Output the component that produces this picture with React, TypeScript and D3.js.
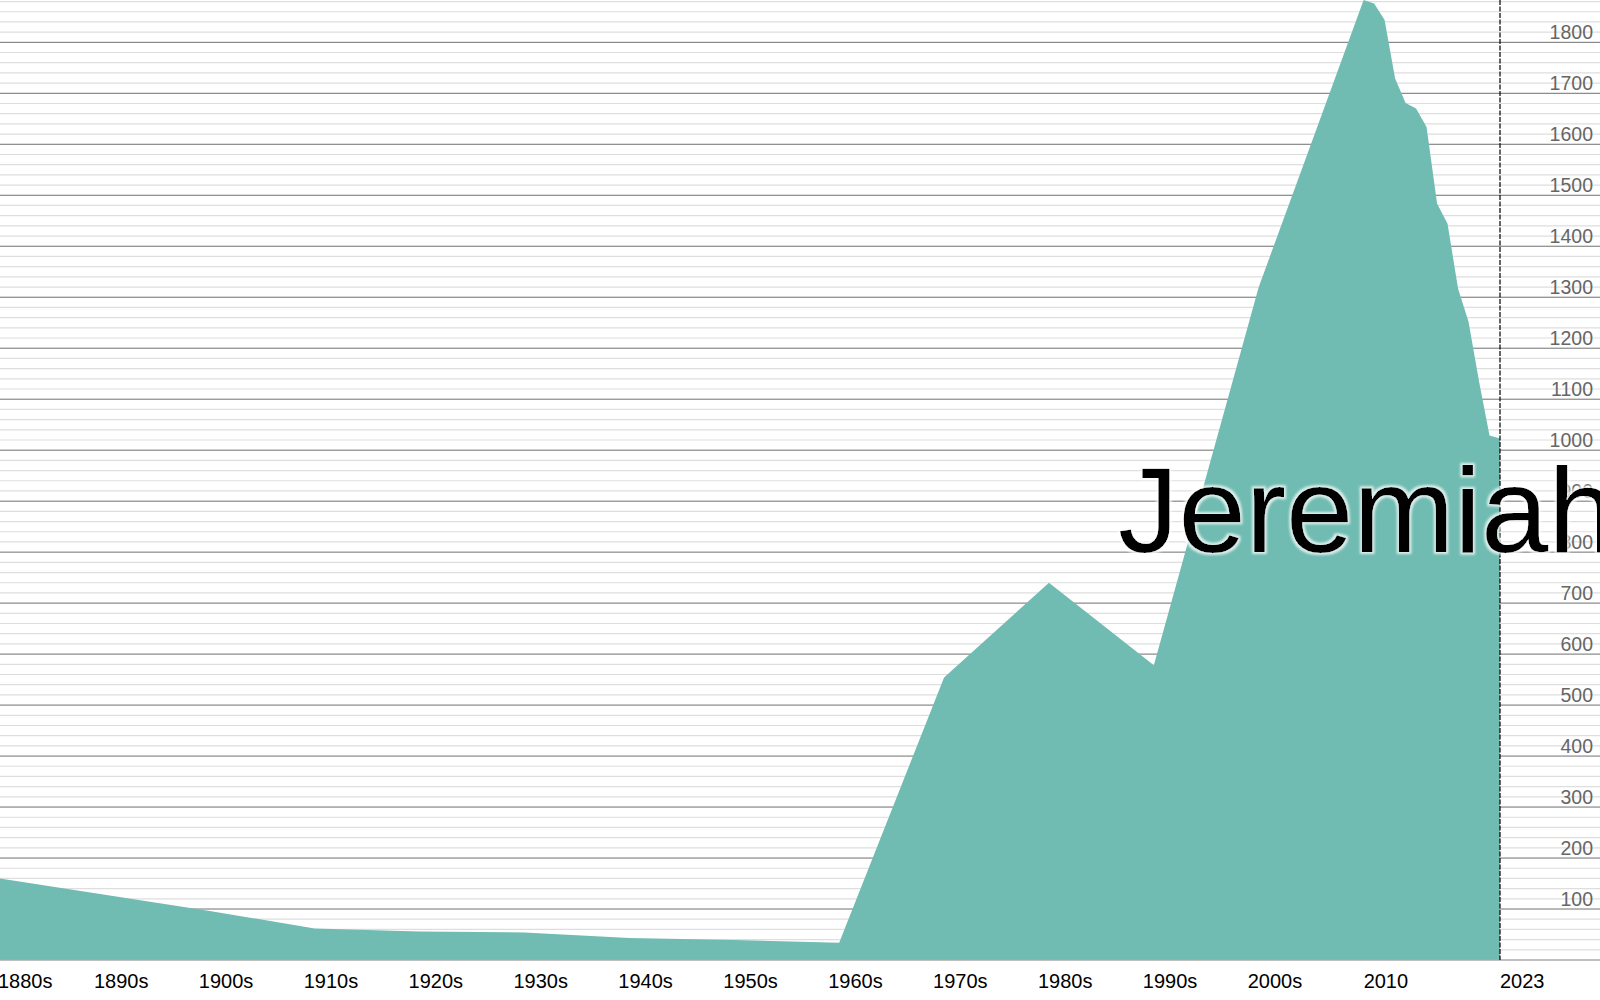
import React from "react";
import * as d3 from "d3";

const years = [1880, 1890, 1900, 1910, 1920, 1930, 1940, 1950, 1960, 1970, 1980, 1990, 2000,
  2010, 2011, 2012, 2013, 2014, 2015, 2016, 2017, 2018, 2019, 2020, 2021, 2022, 2023];
const counts = [160, 128, 96, 62, 56, 54, 43, 39, 34, 554, 740, 578, 1320,
  1883, 1876, 1844, 1729, 1681, 1670, 1634, 1484, 1444, 1317, 1252, 1135, 1029, 1023];

const decadeTicks = [1880, 1890, 1900, 1910, 1920, 1930, 1940, 1950, 1960, 1970, 1980, 1990, 2000];
const decadeLabels = ["1880s", "1890s", "1900s", "1910s", "1920s", "1930s", "1940s", "1950s", "1960s", "1970s", "1980s", "1990s", "2000s"];
const yearTicks = [2010, 2023];
const yearLabels = ["2010", "2023"];
const majorTicks = [100, 200, 300, 400, 500, 600, 700, 800, 900, 1000, 1100, 1200, 1300, 1400, 1500, 1600, 1700, 1800];
const nameLabel = "Jeremiah";

const W = 1600;
const H = 1000;
const plotW = 1500;
const plotH = 960;
const FONT = "'Liberation Sans', Arial, Helvetica, sans-serif";

export default function App() {
  const data = years.map((y, i) => ({ year: y, value: counts[i] }));
  const x = d3.scaleLinear().domain([1880, 2023]).range([0, plotW]);
  const yMax = d3.max(counts) as number;
  const y = d3.scaleLinear().domain([0, yMax]).range([plotH, 0]);

  const area = d3
    .area<{ year: number; value: number }>()
    .x((d) => x(d.year))
    .y0(y(0))
    .y1((d) => y(d.value))
    .curve(d3.curveLinear);

  const minorTicks = d3.range(20, yMax, 20).filter((v) => v % 100 !== 0);

  return (
    <div style={{ position: "absolute", left: 0, top: 0, width: W, height: H, background: "#fff" }}>
      <svg width={W} height={H} style={{ display: "block", fontFamily: FONT }}>
        <defs>
          <filter id="halo" x="-10%" y="-20%" width="120%" height="140%">
            <feMorphology in="SourceAlpha" operator="dilate" radius="1.5" result="d" />
            <feGaussianBlur in="d" stdDeviation="1.2" result="b" />
            <feFlood floodColor="#ffffff" floodOpacity="0.75" />
            <feComposite in2="b" operator="in" result="glow" />
            <feMerge>
              <feMergeNode in="glow" />
              <feMergeNode in="SourceGraphic" />
            </feMerge>
          </filter>
        </defs>
        <rect x={0} y={0} width={W} height={H} fill="#fff" />
        {minorTicks.map((v) => (
          <line key={"mi" + v} x1={0} x2={W} y1={y(v)} y2={y(v)} stroke="#dedede" strokeWidth={1.2} />
        ))}
        {majorTicks.map((v) => (
          <line key={"ma" + v} x1={0} x2={W} y1={y(v)} y2={y(v)} stroke="#707070" strokeWidth={1} />
        ))}
        <path d={area(data) || ""} fill="#71bcb2" />
        <line x1={0} x2={W} y1={y(0)} y2={y(0)} stroke="#aaa" strokeWidth={1.5} />
        <line x1={x(2023)} x2={x(2023)} y1={0} y2={y(0)} stroke="#000" strokeWidth={1.2} strokeDasharray="5,1.5" />
        {majorTicks.map((v) => (
          <text key={"yl" + v} x={1593} y={y(v) - 3} textAnchor="end" fontSize={19.5} fill="#666">
            {v}
          </text>
        ))}
        {decadeTicks.map((d, i) => (
          <text key={"xl" + d} x={Math.max(x(d) - 11, -2)} y={988} fontSize={20} fill="#000">
            {decadeLabels[i]}
          </text>
        ))}
        {yearTicks.map((d, i) => (
          <text key={"yy" + d} x={x(d)} y={988} fontSize={20} fill="#000">
            {yearLabels[i]}
          </text>
        ))}
        <text x={1118} y={552} fontSize={121} fill="#000" filter="url(#halo)">
          {nameLabel}
        </text>
      </svg>
    </div>
  );
}
